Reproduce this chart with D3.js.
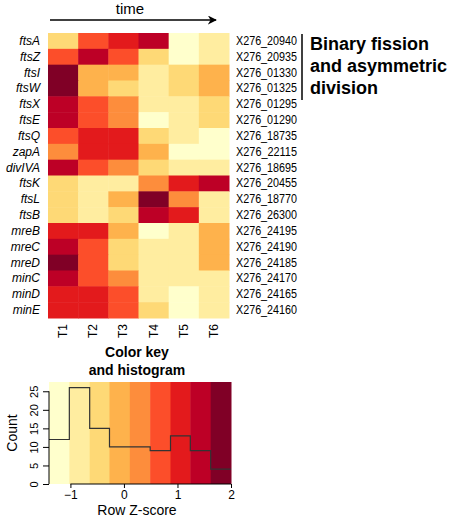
<!DOCTYPE html>
<meta charset="utf-8">
<style>
body { margin: 0; background: #fff; }
text { font-family: Arial, "Liberation Sans", sans-serif; }
</style>
<script src="https://d3js.org/d3.v7.min.js"></script>
<div id="chart"></div>
<script>
var genes = ["ftsA","ftsZ","ftsI","ftsW","ftsX","ftsE","ftsQ","zapA","divIVA","ftsK","ftsL","ftsB","mreB","mreC","mreD","minC","minD","minE"];
var loci = ["X276_20940","X276_20935","X276_01330","X276_01325","X276_01295","X276_01290","X276_18735","X276_22115","X276_18695","X276_20455","X276_18770","X276_26300","X276_24195","X276_24190","X276_24185","X276_24170","X276_24165","X276_24160"];
var times = ["T1","T2","T3","T4","T5","T6"];
// colour bin (0..8) of each cell
var levels = [
  [2,5,6,7,0,1],[5,7,5,2,0,1],[8,3,3,1,2,3],[8,3,2,1,2,3],[7,5,4,1,1,2],[7,5,4,0,1,2],
  [5,6,6,2,1,0],[4,6,6,3,0,0],[7,5,4,2,1,1],[2,1,1,4,6,7],[2,1,3,8,4,1],[2,1,2,7,6,1],
  [6,6,3,0,1,3],[7,5,2,1,1,3],[8,5,2,1,1,3],[7,5,4,1,1,1],[6,6,5,1,0,1],[6,6,5,2,0,1]
];
var palette = ["#ffffcc","#ffeda0","#fed976","#feb24c","#fd8d3c","#fc4e2a","#e31a1c","#bd0026","#800026"];
var breaks = [-1.4,-1.02,-0.64,-0.27,0.11,0.49,0.87,1.24,1.62,2.0];
var counts = [12,26,15,10,10,9,13,9,4];

var svg = d3.select("#chart").append("svg").attr("width",474).attr("height",519);

svg.append("defs").append("marker").attr("id","ah").attr("viewBox","0 0 10 10")
  .attr("refX",9).attr("refY",5).attr("markerWidth",6).attr("markerHeight",6).attr("orient","auto")
  .append("path").attr("d","M0,0L10,5L0,10L3,5z").attr("fill","#000");

var x = d3.scaleBand().domain(times).range([48,229]);
var y = d3.scaleBand().domain(genes).range([33,318]);

svg.append("line").attr("x1",50).attr("x2",216).attr("y1",20).attr("y2",20)
  .attr("stroke","#000").attr("stroke-width",1.5).attr("marker-end","url(#ah)");
svg.append("text").attr("x",130).attr("y",14).attr("text-anchor","middle").attr("font-size",15).text("time");

levels.forEach(function(row,i){
  svg.selectAll(null).data(row).enter().append("rect")
    .attr("x",function(d,j){return x(times[j]);})
    .attr("y",y(genes[i]))
    .attr("width",x.bandwidth()+0.5).attr("height",y.bandwidth()+0.5)
    .attr("fill",function(d){return palette[d];});
});

svg.selectAll(".g").data(genes).enter().append("text")
  .attr("x",40).attr("y",function(d){return y(d)+y.bandwidth()/2+4;})
  .attr("text-anchor","end").attr("font-size",12).attr("font-style","italic").text(function(d){return d;});
svg.selectAll(".l").data(loci).enter().append("text")
  .attr("x",236).attr("y",function(d,i){return y(genes[i])+y.bandwidth()/2+4;})
  .attr("font-size",12).attr("textLength",61).attr("lengthAdjust","spacingAndGlyphs").text(function(d){return d;});
svg.selectAll(".t").data(times).enter().append("text")
  .attr("transform",function(d){return "translate("+(x(d)+x.bandwidth()/2+4)+",324) rotate(-90)";})
  .attr("text-anchor","end").attr("font-size",12).text(function(d){return d;});

svg.append("line").attr("x1",302).attr("x2",302).attr("y1",34).attr("y2",100).attr("stroke","#000").attr("stroke-width",1.5);
["Binary fission","and asymmetric","division"].forEach(function(s,i){
  svg.append("text").attr("x",310).attr("y",50+i*22).attr("font-size",18).attr("font-weight","bold").text(s);
});

// colour key + histogram
var hx = d3.scaleLinear().domain([-1.4,2]).range([49,231]);
var hy = d3.scaleLinear().domain([0,27.5]).range([484,382]);
svg.selectAll(".k").data(palette).enter().append("rect")
  .attr("x",function(d,i){return hx(breaks[i]);}).attr("y",382)
  .attr("width",function(d,i){return hx(breaks[i+1])-hx(breaks[i])+0.5;}).attr("height",102)
  .attr("fill",function(d){return d;});
var pts = [];
counts.forEach(function(c,i){ pts.push([breaks[i],c]); pts.push([breaks[i+1],c]); });
svg.append("path").attr("d",d3.line().x(function(d){return hx(d[0]);}).y(function(d){return hy(d[1]);})(pts))
  .attr("fill","none").attr("stroke","#333").attr("stroke-width",1.2);

svg.append("g").attr("transform","translate(0,484)")
  .call(d3.axisBottom(hx).tickValues([-1,0,1,2]).tickFormat(d3.format("d")).tickSize(4).tickSizeOuter(0))
  .call(function(g){g.selectAll("text").attr("font-size",12).attr("y",6);g.select(".domain").attr("d","M"+hx(-1)+",0V0H"+hx(2));});
svg.append("g").attr("transform","translate(49,0)")
  .call(d3.axisLeft(hy).tickValues([0,5,10,15,20,25]).tickSizeOuter(0))
  .call(function(g){
    g.select(".domain").attr("d","M0,"+hy(0)+"H0V"+hy(25));
    g.selectAll("text").attr("font-size",11).attr("transform","rotate(-90)").attr("x",0).attr("dy","-0.5em").attr("y",-6).attr("text-anchor","middle");
  });
svg.append("text").attr("x",137).attr("y",357).attr("text-anchor","middle").attr("font-size",14).attr("font-weight","bold").text("Color key");
svg.append("text").attr("x",137).attr("y",375).attr("text-anchor","middle").attr("font-size",14).attr("font-weight","bold").text("and histogram");
svg.append("text").attr("transform","translate(17,433) rotate(-90)").attr("text-anchor","middle").attr("font-size",14).text("Count");
svg.append("text").attr("x",137).attr("y",515).attr("text-anchor","middle").attr("font-size",14).text("Row Z-score");
</script>
